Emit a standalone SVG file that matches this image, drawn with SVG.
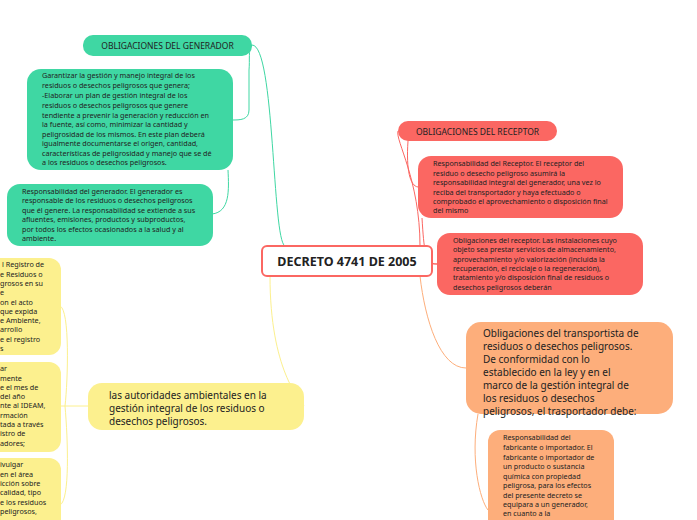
<svg xmlns="http://www.w3.org/2000/svg" width="697" height="520" viewBox="0 0 697 520">
<style>
text{font-family:"Noto Sans","Open Sans",sans-serif;fill:#222}
.s{font-size:7.2px}
.m{font-size:10px}
.h{font-size:8.5px}
.g{fill:#3fd7a3}
.r{fill:#fb6762}
.o{fill:#fdae7b}
.y{fill:#fcf08e}
.c{fill:none;stroke-width:1}
</style>
<rect width="697" height="520" fill="#fff"/>
<g id="connectors">
<path class="c" stroke="#3fd7a3" d="M252,45 C275,45 272,240 285,246"/>
<path class="c" stroke="#3fd7a3" d="M252,45 C248,50 250,60 249,70 L249,110 C249,120 240,120 232,120"/>
<path class="c" stroke="#3fd7a3" d="M228,170 C229,190 230,212 212,214"/>
<path class="c" stroke="#fb6762" d="M420,246 C420,180 395,140 398,131"/>
<path class="c" stroke="#fb6762" d="M408,141 C406,170 410,186 418,187"/>
<path class="c" stroke="#fb6762" d="M422,218 C424,250 425,264 437,264"/>
<path class="c" stroke="#fb6762" d="M432,264 L437,264"/>
<path class="c" stroke="#fdae7b" d="M420,276 C425,320 440,368 466,368"/>
<path class="c" stroke="#fdae7b" d="M478,414 C470,460 480,500 488,510"/>
<path class="c" stroke="#fcf08e" d="M270,276 C270,370 300,400 304,406"/>
<path class="c" stroke="#fcf08e" d="M88,406 L65,406 C68,380 70,310 60,306"/>
<path class="c" stroke="#fcf08e" d="M65,406 L60,406"/>
<path class="c" stroke="#fcf08e" d="M65,406 C68,440 70,500 60,505"/>
</g>
<g id="central"><rect x="262" y="246" width="170" height="30" rx="5" fill="#fff" stroke="#fb6762" stroke-width="2"/><text x="347" y="266" text-anchor="middle" font-size="12.5" font-weight="bold">DECRETO 4741 DE 2005</text></g>
<g id="gen-h"><rect class="g" x="83" y="35" width="169" height="21" rx="10"/><text class="h" x="167.5" y="49" text-anchor="middle">OBLIGACIONES DEL GENERADOR</text></g>
<g id="gen1"><rect class="g" x="27" y="69" width="206" height="101" rx="14"/><text class="s" x="42"><tspan x="42" y="78">Garantizar la gestión y manejo integral de los</tspan><tspan x="42" y="88">residuos o desechos peligrosos que genera;</tspan><tspan x="42" y="98">-Elaborar un plan de gestión integral de los</tspan><tspan x="42" y="108">residuos o desechos peligrosos que genere</tspan><tspan x="42" y="118">tendiente a prevenir la generación y reducción en</tspan><tspan x="42" y="127">la fuente, así como, minimizar la cantidad y</tspan><tspan x="42" y="137">peligrosidad de los mismos. En este plan deberá</tspan><tspan x="42" y="146">igualmente documentarse el origen, cantidad,</tspan><tspan x="42" y="156">características de peligrosidad y manejo que se dé</tspan><tspan x="42" y="165">a los residuos o desechos peligrosos.</tspan></text></g>
<g id="gen2"><rect class="g" x="7" y="184" width="206" height="62" rx="13"/><text class="s"><tspan x="22" y="194">Responsabilidad del generador. El generador es</tspan><tspan x="22" y="203">responsable de los residuos o desechos peligrosos</tspan><tspan x="22" y="213">que él genere. La responsabilidad se extiende a sus</tspan><tspan x="22" y="222">afluentes, emisiones, productos y subproductos,</tspan><tspan x="22" y="232">por todos los efectos ocasionados a la salud y al</tspan><tspan x="22" y="241">ambiente.</tspan></text></g>
<g id="rec-h"><rect class="r" x="398" y="121" width="159" height="20" rx="10"/><text class="h" x="477.5" y="134.5" text-anchor="middle">OBLIGACIONES DEL RECEPTOR</text></g>
<g id="rec1"><rect class="r" x="418" y="156" width="205" height="62" rx="13"/><text class="s"><tspan x="433" y="166">Responsabilidad del Receptor. El receptor del</tspan><tspan x="433" y="176">residuo o desecho peligroso asumirá la</tspan><tspan x="433" y="185">responsabilidad integral del generador, una vez lo</tspan><tspan x="433" y="195">reciba del transportador y haya efectuado o</tspan><tspan x="433" y="204">comprobado el aprovechamiento o disposición final</tspan><tspan x="433" y="213">del mismo</tspan></text></g>
<g id="rec2"><rect class="r" x="437" y="233" width="206" height="62" rx="13"/><text class="s"><tspan x="453" y="243">Obligaciones del receptor. Las instalaciones cuyo</tspan><tspan x="453" y="252">objeto sea prestar servicios de almacenamiento,</tspan><tspan x="453" y="262">aprovechamiento y/o valorización (incluida la</tspan><tspan x="453" y="271">recuperación, el reciclaje o la regeneración),</tspan><tspan x="453" y="280">tratamiento y/o disposición final de residuos o</tspan><tspan x="453" y="290">desechos peligrosos deberán</tspan></text></g>
<g id="trans"><rect class="o" x="466" y="322" width="207" height="92" rx="15"/><text class="m"><tspan x="483" y="337">Obligaciones del transportista de</tspan><tspan x="483" y="350">residuos o desechos peligrosos.</tspan><tspan x="483" y="363">De conformidad con lo</tspan><tspan x="483" y="376">establecido en la ley y en el</tspan><tspan x="483" y="389">marco de la gestión integral de</tspan><tspan x="483" y="402">los residuos o desechos</tspan><tspan x="483" y="415">peligrosos, el trasportador debe:</tspan></text></g>
<g id="fab"><rect class="o" x="488" y="430" width="126" height="110" rx="12"/><text class="s"><tspan x="503" y="440">Responsabilidad del</tspan><tspan x="503" y="450">fabricante o importador. El</tspan><tspan x="503" y="460">fabricante o importador de</tspan><tspan x="503" y="469">un producto o sustancia</tspan><tspan x="503" y="479">química con propiedad</tspan><tspan x="503" y="488">peligrosa, para los efectos</tspan><tspan x="503" y="498">del presente decreto se</tspan><tspan x="503" y="507">equipara a un generador,</tspan><tspan x="503" y="516">en cuanto a la</tspan></text></g>
<g id="aut"><rect class="y" x="88" y="383" width="216" height="47" rx="14"/><text class="m"><tspan x="109" y="399">las autoridades ambientales en la</tspan><tspan x="109" y="412">gestión integral de los residuos o</tspan><tspan x="109" y="425">desechos peligrosos.</tspan></text></g>
<g id="y1"><rect class="y" x="-20" y="258" width="81" height="97" rx="12"/><text class="s"><tspan x="2" y="267">l Registro de</tspan><tspan x="0" y="277">e Residuos o</tspan><tspan x="0" y="286">grosos en su</tspan><tspan x="0" y="295">e</tspan><tspan x="0" y="305">on el acto</tspan><tspan x="0" y="314">que expida</tspan><tspan x="0" y="323">e Ambiente,</tspan><tspan x="0" y="332">arrollo</tspan><tspan x="0" y="342">e el registro</tspan><tspan x="0" y="351">s</tspan></text></g>
<g id="y2"><rect class="y" x="-20" y="362" width="81" height="90" rx="12"/><text class="s"><tspan x="0" y="371">ar</tspan><tspan x="0" y="381">mente</tspan><tspan x="0" y="390">e el mes de</tspan><tspan x="0" y="399">del año</tspan><tspan x="0" y="408">nte al IDEAM,</tspan><tspan x="0" y="418">rmación</tspan><tspan x="0" y="427">tada a través</tspan><tspan x="0" y="436">istro de</tspan><tspan x="0" y="446">adores;</tspan></text></g>
<g id="y3"><rect class="y" x="-20" y="458" width="81" height="80" rx="12"/><text class="s"><tspan x="0" y="467">ivulgar</tspan><tspan x="0" y="477">en el área</tspan><tspan x="0" y="486">icción sobre</tspan><tspan x="0" y="495">calidad, tipo</tspan><tspan x="0" y="505">e los residuos</tspan><tspan x="0" y="514">peligrosos,</tspan></text></g>
</svg>
